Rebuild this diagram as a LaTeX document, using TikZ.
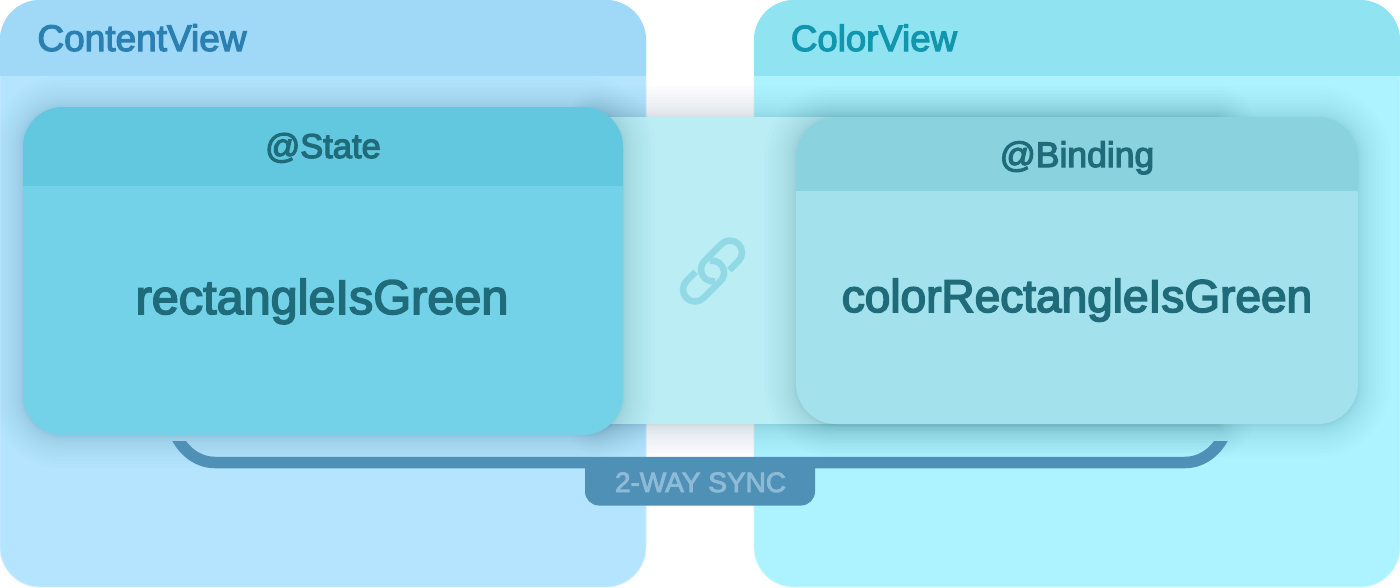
\documentclass[tikz,border=0pt]{standalone}
\usepackage{fontspec}
\setmainfont{Liberation Sans}
\newfontfamily\medfont{Liberation Sans}
\newcommand{\weighted}[2]{\special{pdf:code 2 Tr #1 w}#2\special{pdf:code 0 Tr 1 w}}
\definecolor{leftbody}{HTML}{B5E5FE}
\definecolor{lefthead}{HTML}{A0D8F8}
\definecolor{leftedge}{HTML}{D2F0FF}
\definecolor{rightbody}{HTML}{ADF3FF}
\definecolor{righthead}{HTML}{90E4F2}
\definecolor{rightedge}{HTML}{CDF8FF}
\definecolor{bandfill}{HTML}{BBEDF5}
\definecolor{statehead}{HTML}{62C8DF}
\definecolor{statebody}{HTML}{74D2E8}
\definecolor{bindhead}{HTML}{89D2DE}
\definecolor{bindbody}{HTML}{A3E1EC}
\definecolor{syncblue}{HTML}{4F90B6}
\definecolor{synctext}{HTML}{8DBAD6}
\definecolor{linkcol}{HTML}{92D9E6}
\definecolor{titleleft}{HTML}{2A80B0}
\definecolor{titleright}{HTML}{1296AD}
\definecolor{cardtext}{HTML}{1F6B7A}
\definecolor{shadowcol}{HTML}{0A4A60}
\tikzset{
  txt/.style={anchor=base,inner sep=0pt,outer sep=0pt,font=\medfont},
  titleL/.style={txt,text=titleleft},
  titleR/.style={txt,text=titleright},
  cardlabel/.style={txt,text=cardtext},
  linkring/.style={draw=linkcol,line width=6.5pt,line cap=butt},
  syncline/.style={draw=syncblue,line width=11.5pt},
}
% x1 y1 x2 y2 yhead radius headcolor bodycolor
\newcommand{\cardshape}[8]{%
  \fill[#8,rounded corners=#6pt] (#1,#2) rectangle (#3,#4);
  \begin{scope}
    \clip (#1,#2) rectangle (#3,#5);
    \fill[#7,rounded corners=#6pt] (#1,#2) rectangle (#3,#4);
  \end{scope}}
% x1 y1 x2 y2 radius layeropacity : layers crowd towards the edge
\newcommand{\softshadow}[6]{%
  \foreach \s in {1,...,16}{%
    \pgfmathsetmacro{\e}{0.125*\s*\s}%
    \fill[shadowcol,opacity=#6,rounded corners={(#5+\e)*1pt}]
      (#1-\e,#2-\e+1) rectangle (#3+\e,#4+\e+1);
  }}
\begin{document}
\begin{tikzpicture}[x=1pt,y=-1pt]
\useasboundingbox (0,0) rectangle (1400,587);
\fill[white] (0,0) rectangle (1400,587);
% panels
\cardshape{0}{0}{646}{587}{75.6}{40}{lefthead}{leftbody}
\cardshape{754}{0}{1400}{587}{75.6}{40}{righthead}{rightbody}
\begin{scope}
  \clip (0,76) rectangle (1400,587);
  \draw[leftedge,line width=0.8pt,rounded corners=40pt] (0,0) rectangle (646,587);
  \draw[rightedge,line width=0.8pt,rounded corners=40pt] (754,0) rectangle (1400,587);
\end{scope}
\node[titleL] (contentview) at (142,51) {\fontsize{37}{40}\selectfont\weighted{1.2}{ContentView}};
\node[titleR] (colorview) at (874,51) {\fontsize{36.6}{40}\selectfont\weighted{1.2}{ColorView}};
% band behind the cards
\softshadow{600}{117}{1220}{424}{4}{0.011}
\fill[bandfill] (600,117) rectangle (1220,424);
% card shadows
\softshadow{23}{107}{623}{435}{40}{0.013}
\softshadow{796}{117}{1358}{424}{40}{0.013}
% bracket
\coordinate (syncL) at (178.6,441);
\coordinate (syncLb) at (215,462.5);
\coordinate (syncRb) at (1185,462.5);
\coordinate (syncR) at (1221.4,441);
\begin{scope}
  \clip (150,441) rectangle (1250,480);
  \draw[syncline] (172,425) .. controls (178,447) and (195,462.5) .. (syncLb)
    -- (syncRb) .. controls (1205,462.5) and (1222,447) .. (1228,425);
\end{scope}
\begin{scope}
  \clip (580,460) rectangle (820,510);
  \fill[syncblue,rounded corners=14pt] (585,440) rectangle (815,505.5);
\end{scope}
\node[txt,text=synctext] (sync) at (700.5,492) {\fontsize{28}{30}\selectfont\weighted{0.9}{2-WAY SYNC}};
% cards
\cardshape{23}{107}{623}{435}{185.6}{40}{statehead}{statebody}
\cardshape{796}{117}{1358}{424}{190.6}{40}{bindhead}{bindbody}
\node[cardlabel] (state) at (323,158) {\fontsize{34.5}{38}\selectfont\weighted{1.2}{@State}};
\node[cardlabel] (binding) at (1077,167) {\fontsize{35.5}{38}\selectfont\weighted{1.2}{@Binding}};
\node[cardlabel] (stateval) at (322,314) {\fontsize{48.6}{52}\selectfont\weighted{1.6}{rectangleIsGreen}};
\node[cardlabel] (bindval) at (1077,312) {\fontsize{46}{50}\selectfont\weighted{1.6}{colorRectangleIsGreen}};
% link icon
\begin{scope}[x=1pt,y=1pt,shift={(721.5pt,-261pt)},rotate=45]
  \draw[linkring] (-18.9,-9.8) arc[start angle=235,end angle=90,radius=12] -- (12,12)
    arc[start angle=90,end angle=-90,radius=12] -- (-1,-12);
\end{scope}
\begin{scope}[x=1pt,y=1pt,shift={(703.5pt,-281pt)},rotate=225]
  \draw[linkring] (-18.9,-9.8) arc[start angle=235,end angle=90,radius=12] -- (12,12)
    arc[start angle=90,end angle=-90,radius=12] -- (-1,-12);
\end{scope}
\end{tikzpicture}
\end{document}
